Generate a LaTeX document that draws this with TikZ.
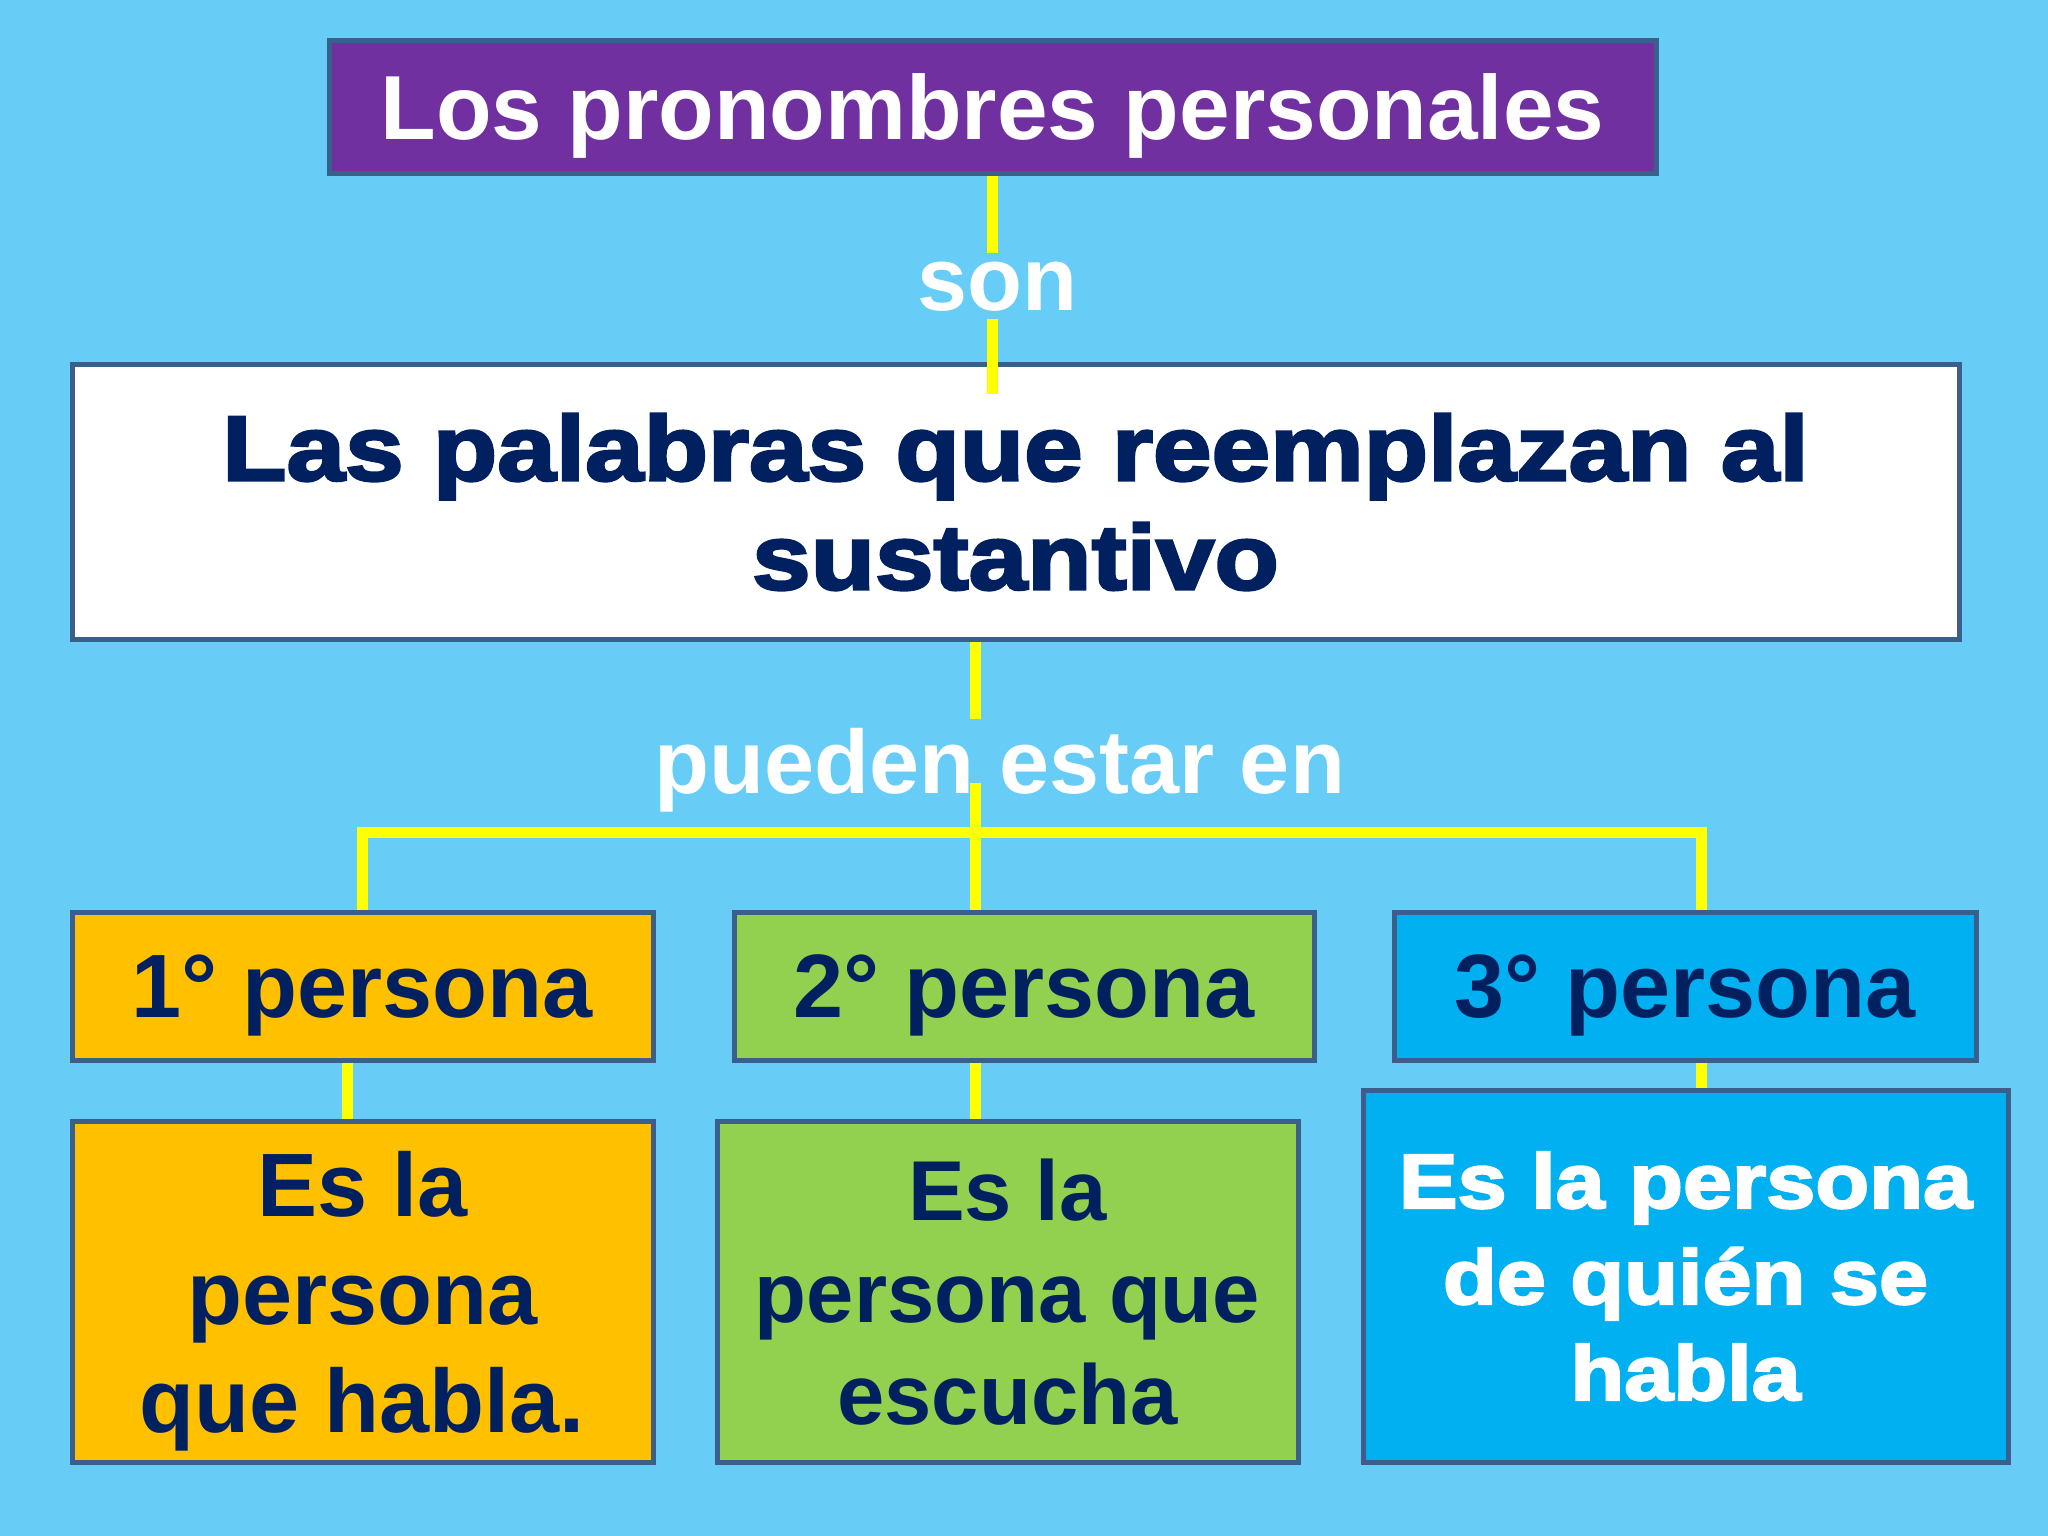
\documentclass[tikz,border=0pt]{standalone}
\usepackage{fontspec}
\setmainfont{Liberation Sans}
\newfontfamily\heavyfont[FakeBold=3,FakeStretch=1.145]{Liberation Sans Bold}
\definecolor{bgblue}{HTML}{67CDF6}
\definecolor{titlepurple}{HTML}{7030A0}
\definecolor{boxorange}{HTML}{FFC000}
\definecolor{boxgreen}{HTML}{92D050}
\definecolor{boxblue}{HTML}{00B0F0}
\definecolor{navytext}{HTML}{002060}
\definecolor{bordercol}{HTML}{3A5F8B}
\definecolor{lineyellow}{HTML}{FFFF00}
\begin{document}
\begin{tikzpicture}[x=1pt,y=-1pt,
  box/.style={draw=bordercol, line width=5pt, inner sep=0pt, text depth=0pt, align=center},
  conn/.style={draw=lineyellow, line width=11pt, line cap=butt, line join=miter},
  lbl/.style={text=white, font=\bfseries\fontsize{90}{108}\selectfont, inner sep=0pt}]
\fill[bgblue] (0,0) rectangle (2048,1536);
\useasboundingbox (0,0) rectangle (2048,1536);

% boxes
\node[box, fill=titlepurple, minimum width=1327pt, minimum height=133pt, text=white,
      font=\bfseries\fontsize{91}{108}\selectfont] (title) at (992.5,107) {Los pronombres personales};
\node[box, fill=white, minimum width=1887pt, minimum height=275pt, text=navytext,
      font=\heavyfont\fontsize{92}{109}\selectfont] (white) at (1015.5,501.5) {Las palabras que reemplazan al\\sustantivo};

\node[box, fill=boxorange, minimum width=581pt, minimum height=148pt, text=navytext,
      font=\bfseries\fontsize{90}{107}\selectfont] (p1) at (362.5,986) {1° persona};
\node[box, fill=boxgreen, minimum width=580pt, minimum height=148pt, text=navytext,
      font=\bfseries\fontsize{90}{107}\selectfont] (p2) at (1024,986) {2° persona};
\node[box, fill=boxblue, minimum width=582pt, minimum height=148pt, text=navytext,
      font=\bfseries\fontsize{90}{107}\selectfont] (p3) at (1685,986) {3° persona};

\node[box, fill=boxorange, minimum width=581pt, minimum height=341pt, text=navytext,
      font=\bfseries\fontsize{90}{108}\selectfont] (d1) at (362.5,1291.5) {Es la\\persona\\que habla.};
\node[box, fill=boxgreen, minimum width=581pt, minimum height=341pt, text=navytext,
      font=\bfseries\fontsize{85}{102}\selectfont] (d2) at (1007.5,1291.5) {Es la\\persona que\\escucha};
\node[box, fill=boxblue, minimum width=645pt, minimum height=372pt, text=white,
      font=\heavyfont\fontsize{77}{96}\selectfont] (d3) at (1685.5,1276) {Es la persona\\de quién se\\habla};

% labels
\node[lbl, anchor=base, inner ysep=8pt] (son) at (997,310) {son};
\node[lbl, anchor=base] (est) at (1000,793) {pueden estar en};

% coordinates
\coordinate (sonend) at (992.5,394);
\coordinate (j) at (975,832);
\coordinate (k1) at (975,719);
\coordinate (k2) at (975,783);
\coordinate (bl) at (362,832);
\coordinate (br) at (1701,832);
\coordinate (c1) at (347,1090);

% connectors
\draw[conn] (title.south) -- (title.south |- son.north);
\draw[conn] (title.south |- son.south) -- (sonend);
\draw[conn] (white.south -| j) -- (k1);
\draw[conn] (k2) -- (p2.north -| j);
\draw[conn] (p1.north -| bl) -- (bl) -- (br) -- (p3.north -| br);
\draw[conn] (p1.south -| c1) -- (d1.north -| c1);
\draw[conn] (p2.south -| j) -- (d2.north -| j);
\draw[conn] (p3.south -| br) -- (d3.north -| br);
\end{tikzpicture}
\end{document}
